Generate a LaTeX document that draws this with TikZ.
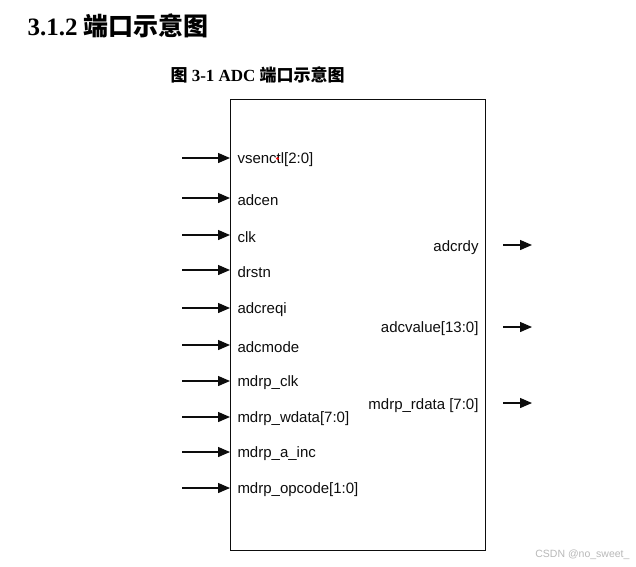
\documentclass[tikz,border=0pt]{standalone}
\usepackage{fontspec}
\setmainfont{Liberation Serif}
\setsansfont{Liberation Sans}
\newfontfamily\cjk{Noto Sans CJK SC}
\usetikzlibrary{arrows.meta}
\definecolor{ink}{gray}{0.05}
\definecolor{mark}{gray}{0.72}
\definecolor{cursor}{RGB}{230,20,20}

\begin{document}
\begin{tikzpicture}[x=1pt, y=-1pt, line width=1pt,
   port/.style={font=\sffamily\fontsize{15}{16}\selectfont, text=ink, inner ysep=0pt},
   pin/.style={draw=ink, line width=1.3pt, -{Triangle[length=12pt, width=10pt]}}]
  \useasboundingbox (0,0) rectangle (636,566);
  % headings
  \node[anchor=base west, inner sep=0pt, font=\fontsize{25}{27}\selectfont\bfseries] (head) at (27,35)
    {3.1.2 {\cjk\bfseries 端口示意图}};
  \node[anchor=base west, inner sep=0pt, font=\fontsize{17}{18}\selectfont\bfseries] (cap) at (170,81)
    {{\cjk\bfseries 图} 3-1 ADC {\cjk\bfseries 端口示意图}};
  % block
  \node[draw=ink, rectangle, minimum width=255pt, minimum height=451pt, anchor=north west, inner sep=0pt] (adc) at (230,99) {};
  % inputs (left)
  \coordinate (i1) at (182,158); \node[port, anchor=west, inner xsep=7pt] (p1) at (230,160) {vsenctl[2:0]};
  \coordinate (i2) at (182,198); \node[port, anchor=west, inner xsep=7pt] (p2) at (230,200) {adcen};
  \coordinate (i3) at (182,235); \node[port, anchor=west, inner xsep=7pt] (p3) at (230,237) {clk};
  \coordinate (i4) at (182,270); \node[port, anchor=west, inner xsep=7pt] (p4) at (230,272) {drstn};
  \coordinate (i5) at (182,308); \node[port, anchor=west, inner xsep=7pt] (p5) at (230,310) {adcreqi};
  \coordinate (i6) at (182,345); \node[port, anchor=west, inner xsep=7pt] (p6) at (230,347) {adcmode};
  \coordinate (i7) at (182,381); \node[port, anchor=west, inner xsep=7pt] (p7) at (230,383) {mdrp\_clk};
  \coordinate (i8) at (182,417); \node[port, anchor=west, inner xsep=7pt] (p8) at (230,419) {mdrp\_wdata[7:0]};
  \coordinate (i9) at (182,452); \node[port, anchor=west, inner xsep=7pt] (p9) at (230,454) {mdrp\_a\_inc};
  \coordinate (i10) at (182,488); \node[port, anchor=west, inner xsep=7pt] (p10) at (230,490) {mdrp\_opcode[1:0]};
  \draw[pin] (i1)--(p1.west|-i1); \draw[pin] (i2)--(p2.west|-i2); \draw[pin] (i3)--(p3.west|-i3);
  \draw[pin] (i4)--(p4.west|-i4); \draw[pin] (i5)--(p5.west|-i5); \draw[pin] (i6)--(p6.west|-i6);
  \draw[pin] (i7)--(p7.west|-i7); \draw[pin] (i8)--(p8.west|-i8); \draw[pin] (i9)--(p9.west|-i9);
  \draw[pin] (i10)--(p10.west|-i10);
  \fill[cursor] (277.5,158.5) circle (1.6pt);
  % outputs (right)
  \node[port, anchor=east, inner xsep=6pt] (q1) at (485,248) {adcrdy};
  \node[port, anchor=east, inner xsep=6pt] (q2) at (485,329) {adcvalue[13:0]};
  \node[port, anchor=east, inner xsep=6pt] (q3) at (485,406) {mdrp\_rdata [7:0]};
  \coordinate (o1a) at (503,245); \coordinate (o1b) at (532,245);
  \coordinate (o2a) at (503,327); \coordinate (o2b) at (532,327);
  \coordinate (o3a) at (503,403); \coordinate (o3b) at (532,403);
  \draw[pin] (o1a)--(o1b); \draw[pin] (o2a)--(o2b); \draw[pin] (o3a)--(o3b);
  % watermark
  \node[anchor=east, inner sep=0pt, text=mark, font=\sffamily\fontsize{10.5}{11}\selectfont] (wm) at (630,555) {CSDN @no\_sweet\_};
\end{tikzpicture}
\end{document}
